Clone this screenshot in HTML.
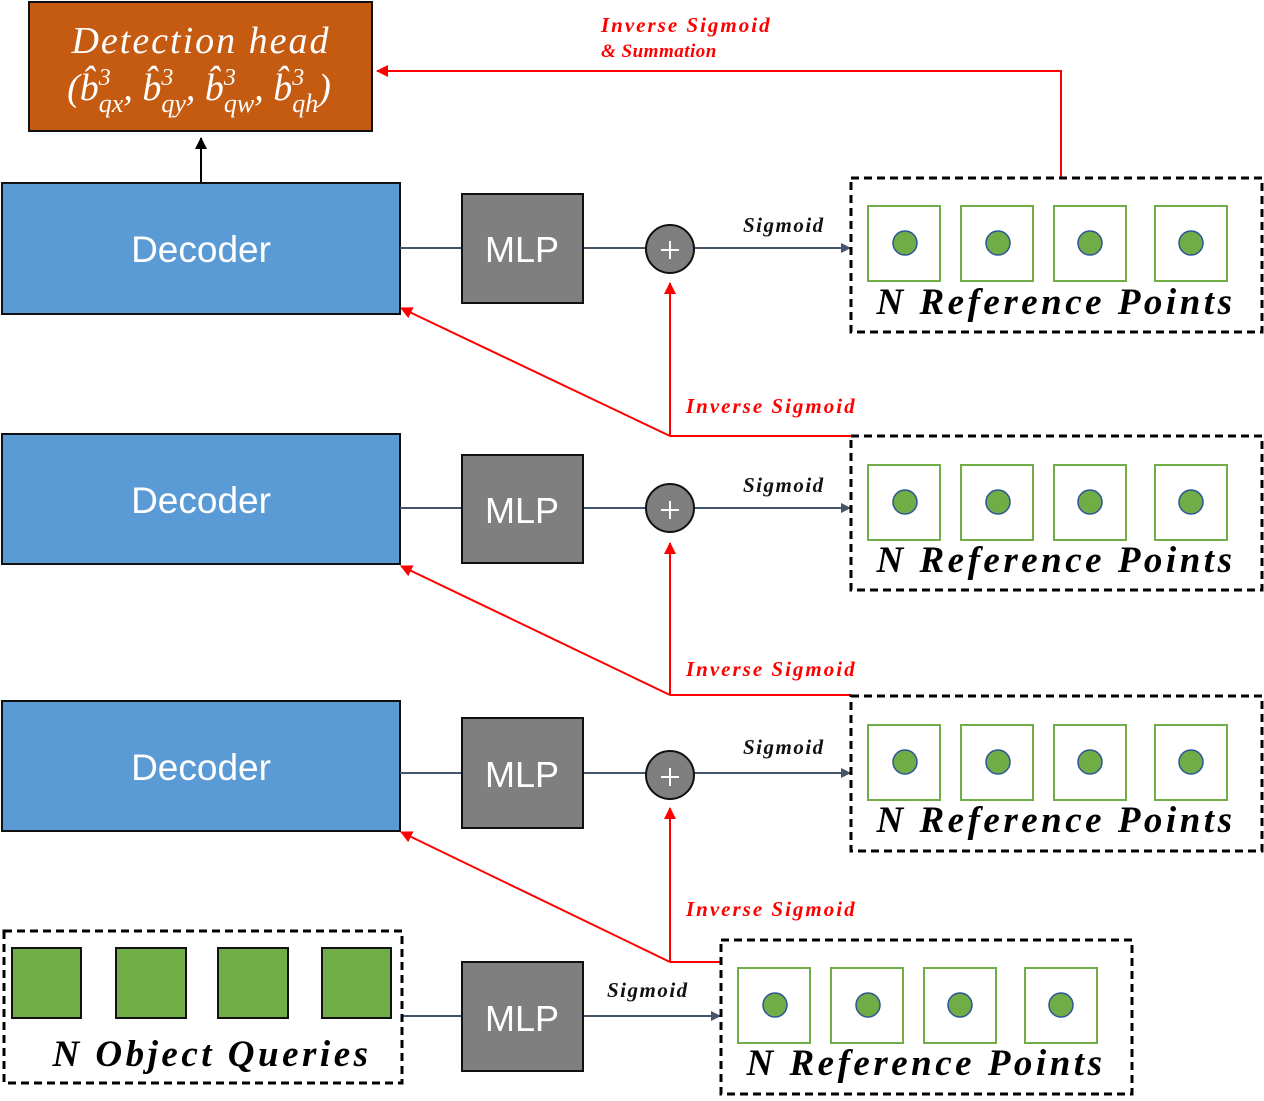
<!DOCTYPE html>
<html><head><meta charset="utf-8"><style>html,body{margin:0;padding:0;background:#fff}svg{display:block}</style></head>
<body>
<svg width="1264" height="1101" viewBox="0 0 1264 1101" xmlns="http://www.w3.org/2000/svg">
<defs>
<marker id="ab" markerWidth="10" markerHeight="10" refX="9" refY="5" orient="auto" markerUnits="userSpaceOnUse"><path d="M0,0 L10,5 L0,10 z" fill="#44546A"/></marker>
<marker id="ar" markerWidth="12" markerHeight="12" refX="11" refY="6" orient="auto" markerUnits="userSpaceOnUse"><path d="M0,0 L12,6 L0,12 z" fill="#f00"/></marker>
<marker id="ak" markerWidth="12" markerHeight="12" refX="11" refY="6" orient="auto" markerUnits="userSpaceOnUse"><path d="M0,0 L12,6 L0,12 z" fill="#000"/></marker>
</defs>
<style>
.sans{font-family:"Liberation Sans",sans-serif}
.ser{font-family:"Liberation Serif",serif;font-style:italic}
</style>
<!-- Detection head -->
<rect x="29" y="2" width="343" height="129" fill="#C55A11" stroke="#111" stroke-width="2"/>
<text x="201" y="53" text-anchor="middle" class="ser" font-size="38" letter-spacing="2" fill="#fff">Detection head</text>
<text x="199" y="100" text-anchor="middle" class="ser" font-size="38" fill="#fff">(b̂<tspan font-size="24" dy="-15">3</tspan><tspan font-size="26" dx="-12" dy="27">qx</tspan><tspan dy="-12">, b̂</tspan><tspan font-size="24" dy="-15">3</tspan><tspan font-size="26" dx="-12" dy="27">qy</tspan><tspan dy="-12">, b̂</tspan><tspan font-size="24" dy="-15">3</tspan><tspan font-size="26" dx="-12" dy="27">qw</tspan><tspan dy="-12">, b̂</tspan><tspan font-size="24" dy="-15">3</tspan><tspan font-size="26" dx="-12" dy="27">qh</tspan><tspan dy="-12">)</tspan></text>
<line x1="201" y1="182" x2="201" y2="138" stroke="#000" stroke-width="2" marker-end="url(#ak)"/>

<!-- Decoders -->
<g class="sans" font-size="37" fill="#fff" text-anchor="middle">
<rect x="2" y="183" width="398" height="131" fill="#5B9BD5" stroke="#111" stroke-width="2"/>
<text x="201" y="262">Decoder</text>
<rect x="2" y="434" width="398" height="130" fill="#5B9BD5" stroke="#111" stroke-width="2"/>
<text x="201" y="513">Decoder</text>
<rect x="2" y="701" width="398" height="130" fill="#5B9BD5" stroke="#111" stroke-width="2"/>
<text x="201" y="780">Decoder</text>
</g>

<!-- connectors -->
<g stroke="#44546A" stroke-width="2" fill="none">
<line x1="400" y1="248" x2="462" y2="248"/><line x1="583" y1="248" x2="646" y2="248"/><line x1="694" y1="248" x2="850" y2="248" marker-end="url(#ab)"/>
<line x1="400" y1="508" x2="462" y2="508"/><line x1="583" y1="508" x2="646" y2="508"/><line x1="694" y1="508" x2="850" y2="508" marker-end="url(#ab)"/>
<line x1="400" y1="773" x2="462" y2="773"/><line x1="583" y1="773" x2="646" y2="773"/><line x1="694" y1="773" x2="850" y2="773" marker-end="url(#ab)"/>
<line x1="402" y1="1016" x2="462" y2="1016"/><line x1="583" y1="1016" x2="720" y2="1016" marker-end="url(#ab)"/>
</g>

<!-- MLPs -->
<g class="sans" font-size="36" fill="#fff" text-anchor="middle">
<rect x="462" y="194" width="121" height="109" fill="#7F7F7F" stroke="#111" stroke-width="2"/><text x="522" y="262">MLP</text>
<rect x="462" y="455" width="121" height="108" fill="#7F7F7F" stroke="#111" stroke-width="2"/><text x="522" y="523">MLP</text>
<rect x="462" y="718" width="121" height="110" fill="#7F7F7F" stroke="#111" stroke-width="2"/><text x="522" y="787">MLP</text>
<rect x="462" y="962" width="121" height="109" fill="#7F7F7F" stroke="#111" stroke-width="2"/><text x="522" y="1031">MLP</text>
</g>

<!-- plus circles -->
<g>
<circle cx="670" cy="249" r="24" fill="#7F7F7F" stroke="#111" stroke-width="2"/>
<circle cx="670" cy="508" r="24" fill="#7F7F7F" stroke="#111" stroke-width="2"/>
<circle cx="670" cy="775" r="24" fill="#7F7F7F" stroke="#111" stroke-width="2"/>
<g stroke="#fff" stroke-width="2"><path d="M661 250h18M670 241v18"/><path d="M661 510h18M670 501v18"/><path d="M661 777h18M670 768v18"/></g>
</g>

<!-- Sigmoid labels -->
<g class="ser" font-weight="bold" font-size="21" letter-spacing="1.5" fill="#111">
<text x="743" y="232">Sigmoid</text>
<text x="743" y="492">Sigmoid</text>
<text x="743" y="754">Sigmoid</text>
<text x="607" y="997">Sigmoid</text>
</g>

<!-- red lines -->
<g stroke="#f00" stroke-width="2" fill="none">
<polyline points="1061,178 1061,71 377,71" marker-end="url(#ar)"/>
<polyline points="851,436 670,436"/><line x1="670" y1="436" x2="670" y2="283" marker-end="url(#ar)"/><line x1="670" y1="436" x2="401" y2="308" marker-end="url(#ar)"/>
<polyline points="851,695 670,695"/><line x1="670" y1="695" x2="670" y2="543" marker-end="url(#ar)"/><line x1="670" y1="695" x2="401" y2="566" marker-end="url(#ar)"/>
<polyline points="721,962 670,962"/><line x1="670" y1="962" x2="670" y2="808" marker-end="url(#ar)"/><line x1="670" y1="962" x2="401" y2="832" marker-end="url(#ar)"/>
</g>
<g class="ser" font-weight="bold" font-size="21" letter-spacing="2" fill="#f00">
<text x="601" y="32">Inverse Sigmoid</text>
<text x="601" y="57" font-size="19" letter-spacing="0.5">&amp; Summation</text>
<text x="686" y="413">Inverse Sigmoid</text>
<text x="686" y="676">Inverse Sigmoid</text>
<text x="686" y="916">Inverse Sigmoid</text>
</g>

<!-- Reference point boxes -->
<g stroke="#000" stroke-width="3" stroke-dasharray="8,5" fill="none">
<rect x="851" y="178" width="411" height="154"/>
<rect x="851" y="436" width="411" height="154"/>
<rect x="851" y="696" width="411" height="155"/>
<rect x="721" y="940" width="411" height="154"/>
<rect x="4" y="931" width="398" height="152"/>
</g>
<g fill="#fff" stroke="#70AD47" stroke-width="2">
<rect x="868" y="206" width="72" height="75"/><rect x="961" y="206" width="72" height="75"/><rect x="1054" y="206" width="72" height="75"/><rect x="1155" y="206" width="72" height="75"/>
<rect x="868" y="465" width="72" height="75"/><rect x="961" y="465" width="72" height="75"/><rect x="1054" y="465" width="72" height="75"/><rect x="1155" y="465" width="72" height="75"/>
<rect x="868" y="725" width="72" height="75"/><rect x="961" y="725" width="72" height="75"/><rect x="1054" y="725" width="72" height="75"/><rect x="1155" y="725" width="72" height="75"/>
<rect x="738" y="968" width="72" height="75"/><rect x="831" y="968" width="72" height="75"/><rect x="924" y="968" width="72" height="75"/><rect x="1025" y="968" width="72" height="75"/>
</g>
<g fill="#70AD47" stroke="#2F5597" stroke-width="1.5">
<ellipse cx="905" cy="243" rx="12" ry="12"/><ellipse cx="998" cy="243" rx="12" ry="12"/><ellipse cx="1090" cy="243" rx="12" ry="12"/><ellipse cx="1191" cy="243" rx="12" ry="12"/>
<ellipse cx="905" cy="502" rx="12" ry="12"/><ellipse cx="998" cy="502" rx="12" ry="12"/><ellipse cx="1090" cy="502" rx="12" ry="12"/><ellipse cx="1191" cy="502" rx="12" ry="12"/>
<ellipse cx="905" cy="762" rx="12" ry="12"/><ellipse cx="998" cy="762" rx="12" ry="12"/><ellipse cx="1090" cy="762" rx="12" ry="12"/><ellipse cx="1191" cy="762" rx="12" ry="12"/>
<ellipse cx="775" cy="1005" rx="12" ry="12"/><ellipse cx="868" cy="1005" rx="12" ry="12"/><ellipse cx="960" cy="1005" rx="12" ry="12"/><ellipse cx="1061" cy="1005" rx="12" ry="12"/>
</g>
<g class="ser" font-weight="bold" font-size="37" fill="#000" text-anchor="middle" letter-spacing="3.5">
<text x="1056" y="314">N Reference Points</text>
<text x="1056" y="572">N Reference Points</text>
<text x="1056" y="832">N Reference Points</text>
<text x="926" y="1075">N Reference Points</text>
<text x="212" y="1066">N Object Queries</text>
</g>
<g fill="#70AD47" stroke="#111" stroke-width="2">
<rect x="12" y="948" width="69" height="70"/><rect x="116" y="948" width="70" height="70"/><rect x="218" y="948" width="70" height="70"/><rect x="322" y="948" width="69" height="70"/>
</g>
</svg>
</body></html>
